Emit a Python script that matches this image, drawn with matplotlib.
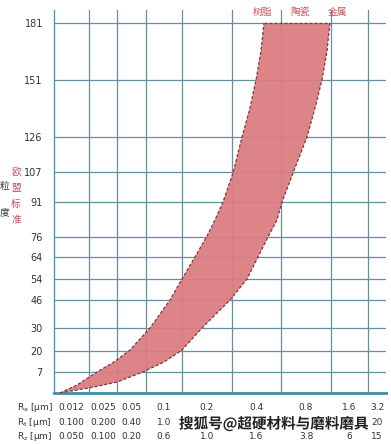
import matplotlib
matplotlib.use("Agg")
import matplotlib.pyplot as plt
import matplotlib.patheffects as pe
import numpy as np

# ---- data ----
grain_labels = ["7", "20", "30", "46", "54", "64", "76", "91", "107", "126", "151", "181"]
ra_vals = ["0.012", "0.025", "0.05", "0.1", "0.2", "0.4", "0.8", "1.6", "3.2"]
rt_vals = ["0.100", "0.200", "0.40", "1.0", "2.0", "3.0", "6.0", "10", "20"]
rz_vals = ["0.050", "0.100", "0.20", "0.6", "1.0", "1.6", "3.8", "6", "15"]
bond_labels = ["树脂", "陶瓷", "金属"]

# band boundaries (in chart grid units)
upper_x = [6, 23, 43, 60, 76, 96, 116, 128, 141, 153, 161, 169, 179, 188, 196, 202, 207, 210]
upper_y = [0, 8, 21, 31, 43, 65, 93, 114, 136, 157, 173, 191, 220, 256, 285, 313, 342, 370]
lower_x = [6, 40, 63, 89, 110, 128, 148, 176, 193, 204, 214, 223, 228, 239, 253, 261, 268, 273, 276]
lower_y = [0, 6, 11, 21, 31, 43, 65, 93, 114, 136, 156, 173, 191, 220, 256, 285, 313, 342, 370]

# ---- layout ----
grain_pos = [21, 42, 65, 93, 114, 136, 156, 191, 221, 256, 313, 370]
col_edges = [0, 35, 63, 92, 128, 178, 227, 277, 314, 332]
x_max, y_max = 332, 383

W, H = 391, 444
fig = plt.figure(figsize=(W / 100, H / 100), dpi=100)
ax = fig.add_axes([54 / W, (H - 393) / H, 332 / W, 383 / H])
ax.set_xlim(0, x_max)
ax.set_ylim(0, y_max)

grid_c = "#62909e"
for x in col_edges[1:-1]:
    ax.axvline(x, color=grid_c, lw=0.9, zorder=1)
for y in grain_pos:
    ax.axhline(y, color=grid_c, lw=0.9, zorder=1)

for s in ["top", "right"]:
    ax.spines[s].set_visible(False)
ax.spines["left"].set_color("#4a9ab0")
ax.spines["left"].set_linewidth(1.0)
ax.spines["bottom"].set_color("#3f8ea8")
ax.spines["bottom"].set_linewidth(2.0)

# band
poly_x = list(upper_x) + list(lower_x[::-1])
poly_y = list(upper_y) + list(lower_y[::-1])
ax.fill(poly_x, poly_y, color="#db7d82", alpha=0.95, zorder=2, lw=0)
edge_c = "#7a3b3f"
ax.plot(upper_x, upper_y, ls=(0, (2.5, 1.5)), color=edge_c, lw=0.9, zorder=3)
ax.plot(lower_x, lower_y, ls=(0, (2.5, 1.5)), color=edge_c, lw=0.9, zorder=3)
ax.plot([upper_x[-1], lower_x[-1]], [upper_y[-1], lower_y[-1]],
        ls=(0, (2.5, 1.5)), color=edge_c, lw=0.9, zorder=3)

ax.set_xticks([])
ax.set_yticks(grain_pos)
ax.set_yticklabels(grain_labels, fontsize=7, color="#333333")
ax.tick_params(axis="y", length=0, pad=8)

cjk = ["Noto Sans CJK SC", "DejaVu Sans"]
# bond labels at top
bond_x = [208, 246, 284]
for bx, lab in zip(bond_x, bond_labels):
    ax.text(bx, 381, lab, ha="center", va="center", fontsize=7,
            color="#c9545a", family=cjk, clip_on=False)

# left vertical labels
for i, ch in enumerate("欧盟标准"):
    fig.text(16 / W, 1 - (172 + i * 16) / H, ch, ha="center", va="center",
             fontsize=7, color="#c0505a", family=cjk)
fig.text(5 / W, 1 - 186 / H, "粒", ha="center", va="center", fontsize=7,
         color="#333333", family=cjk)
fig.text(5 / W, 1 - 212 / H, "度", ha="center", va="center", fontsize=7,
         color="#333333", family=cjk)

# bottom table
centers = [(a + b) / 2 for a, b in zip(col_edges[:-1], col_edges[1:])]
rows = [(r"R$_\mathrm{a}$ [μm]", ra_vals, -14),
        (r"R$_\mathrm{t}$ [μm]", rt_vals, -29),
        (r"R$_\mathrm{z}$ [μm]", rz_vals, -43)]
for name, vals, yy in rows:
    ax.text(-37, yy, name, ha="left", va="center", fontsize=6.5,
            color="#333333", clip_on=False)
    for cx, v in zip(centers, vals):
        ax.text(cx, yy, v, ha="center", va="center", fontsize=6.5,
                color="#333333", clip_on=False)

# watermark
fig.text(274 / W, 1 - 424 / H, "搜狐号@超硬材料与磨料磨具", ha="center", va="center",
         fontsize=10.5, color="#222222", family=cjk, fontweight="bold",
         path_effects=[pe.withStroke(linewidth=2.5, foreground="white")])

fig.savefig("out.png", dpi=100)
